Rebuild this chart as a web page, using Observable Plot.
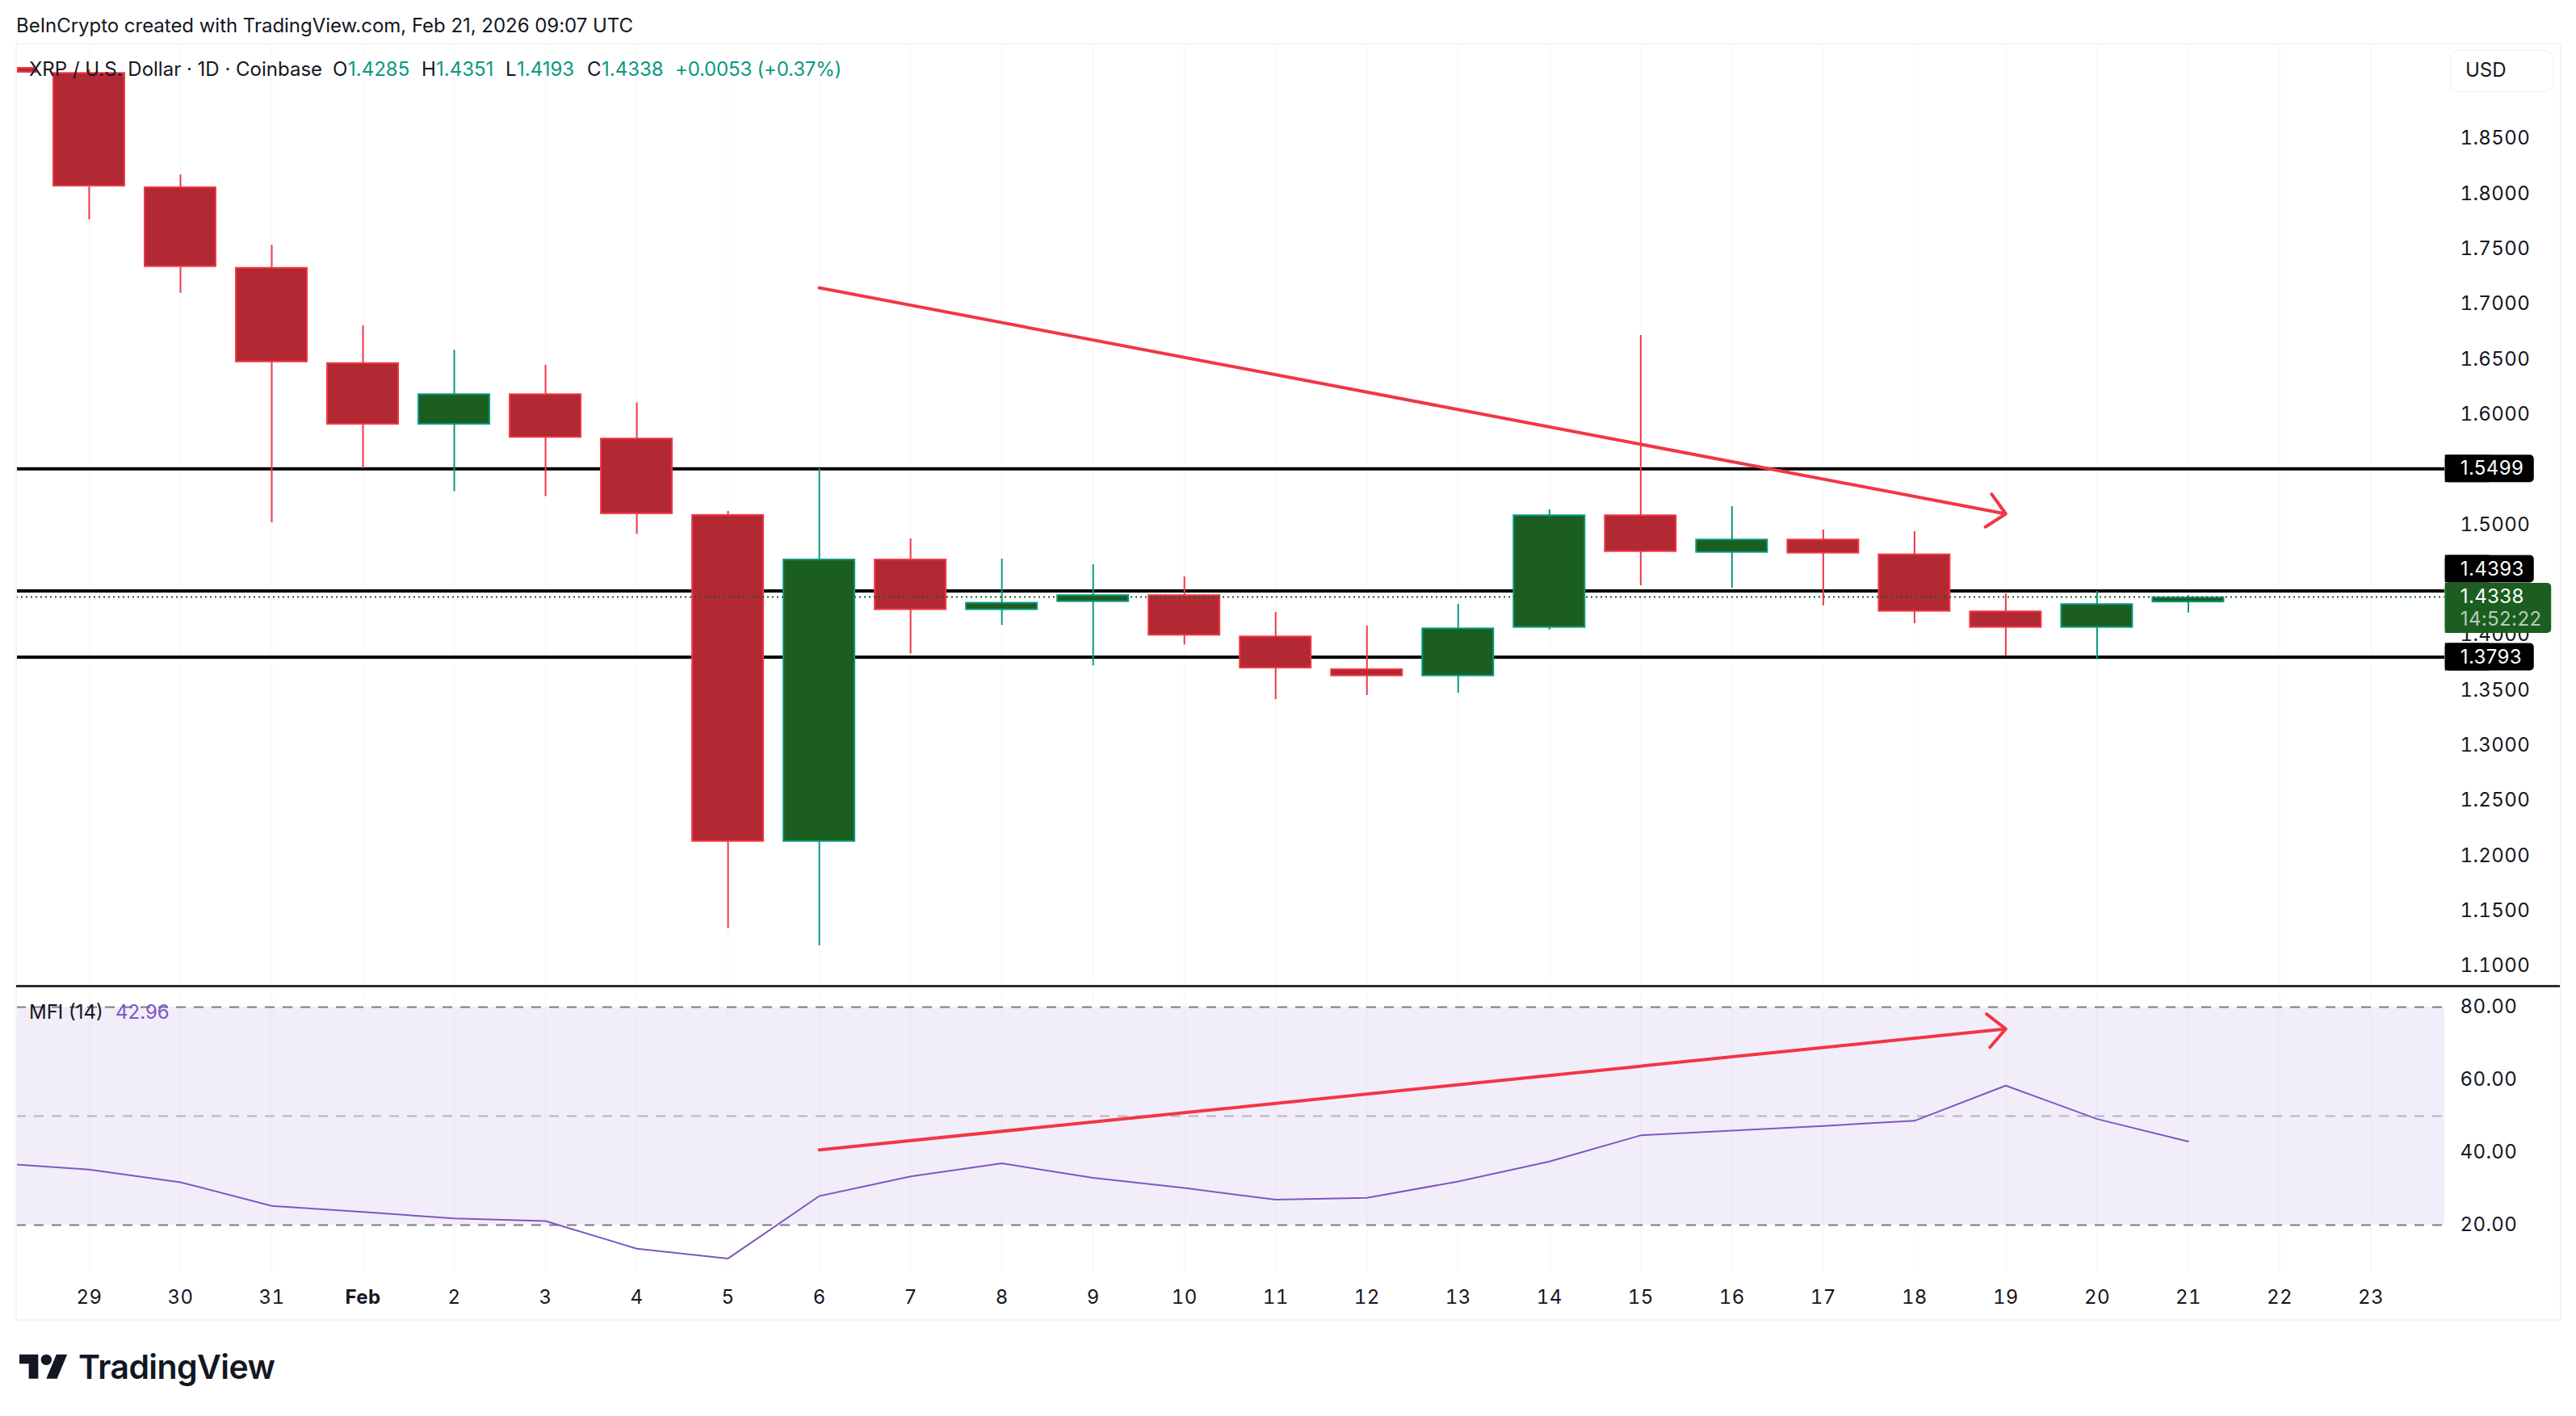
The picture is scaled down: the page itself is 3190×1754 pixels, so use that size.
<!DOCTYPE html>
<html>
<head>
<meta charset="utf-8">
<script src="https://cdn.jsdelivr.net/npm/d3@7"></script>
<script src="https://cdn.jsdelivr.net/npm/@observablehq/plot@0.6"></script>
<style>
  html,body{margin:0;padding:0;background:#fff;}
  #page{position:relative;width:3190px;height:1754px;overflow:hidden;font-family:Inter,sans-serif;color:#131722;}
  #page .abs{position:absolute;white-space:nowrap;line-height:1;}
  #page svg{background:transparent;overflow:visible;}
  .plotbox{position:absolute;left:0;}
  .t{font-size:24px;}
  .up{color:#089981;}
  .mf{color:#7e57c2;}
</style>
</head>
<body>
<div id="page">
  <div id="chartTop" class="plotbox" style="top:0"></div>
  <div id="chartBottom" class="plotbox" style="top:1222px"></div>

  <div class="abs" style="left:19px;top:53px;width:3149px;height:1579px;border:2px solid #f4f4f5;pointer-events:none"></div>
  <div class="abs" style="left:20px;top:1220px;width:3150px;height:3px;background:#2a2e39"></div>

  <div class="abs t" style="left:20px;top:20px;letter-spacing:-0.03px">BeInCrypto created with TradingView.com, Feb 21, 2026 09:07 UTC</div>

  <div class="abs" style="left:21px;top:83px;width:21px;height:3px;background:#b22833;border:2px solid #f23645;box-sizing:content-box"></div>
  <div class="abs t" style="left:36px;top:74px">XRP / U.S. Dollar · 1D · Coinbase</div>
  <div class="abs t" style="left:412px;top:74px">O</div><div class="abs t up" style="left:431px;top:74px">1.4285</div>
  <div class="abs t" style="left:522px;top:74px">H</div><div class="abs t up" style="left:540px;top:74px">1.4351</div>
  <div class="abs t" style="left:626px;top:74px">L</div><div class="abs t up" style="left:640px;top:74px">1.4193</div>
  <div class="abs t" style="left:727px;top:74px">C</div><div class="abs t up" style="left:745px;top:74px">1.4338</div>
  <div class="abs t up" style="left:836px;top:74px;letter-spacing:-0.2px">+0.0053 (+0.37%)</div>

  <div class="abs" style="left:3034px;top:62px;width:126px;height:50px;border:1.5px solid #f0f0f2;border-radius:10px"></div>
  <div class="abs" style="left:3053px;top:75px;font-size:24px">USD</div>

  <div class="abs t" style="left:36px;top:1242px">MFI (14)</div>
  <div class="abs t mf" style="left:143px;top:1242px">42.96</div>

  <svg class="abs" style="left:24px;top:1671px" width="60" height="44" viewBox="0 0 36 26.4"><path fill="#131722" d="M14 22H7V11H0V4h14v18zM28 22h-8l7.5-18h8L28 22z"/><circle fill="#131722" cx="20" cy="8" r="4"/></svg>
  <div class="abs" style="left:97px;top:1673px;font-size:41px;font-weight:600;letter-spacing:-0.6px">TradingView</div>
</div>

<script>
// Day axis: index 0 is Jan 29
const dayLabels = ["29","30","31","Feb","2","3","4","5","6","7","8","9","10","11","12","13","14","15","16","17","18","19","20","21","22","23"];

// Daily candles, Jan 29 to Feb 21
const opens  = [1.9090,1.8054,1.7324,1.6461,1.5896,1.6179,1.5777,1.5085,1.2116,1.4681,1.4216,1.4289,1.4358,1.3984,1.3687,1.3616,1.4055,1.5082,1.4735,1.4862,1.4728,1.4211,1.4055,1.4285];
const highs  = [1.9114,1.8163,1.7525,1.6796,1.6573,1.6439,1.6097,1.5113,1.5500,1.4865,1.4681,1.4630,1.4520,1.4199,1.4074,1.4272,1.5128,1.6708,1.5157,1.4945,1.4930,1.4367,1.4389,1.4351];
const lows   = [1.7756,1.7090,1.5010,1.5501,1.5293,1.5248,1.4906,1.1335,1.1178,1.3822,1.4081,1.3715,1.3904,1.3409,1.3445,1.3467,1.4038,1.4440,1.4418,1.4257,1.4096,1.3801,1.3770,1.4193];
const closes = [1.8054,1.7324,1.6461,1.5896,1.6179,1.5777,1.5085,1.2116,1.4681,1.4216,1.4289,1.4358,1.3984,1.3687,1.3616,1.4057,1.5082,1.4742,1.4862,1.4728,1.4201,1.4055,1.4277,1.4338];

// Horizontal levels and price axis
const levels = [1.5499,1.4393,1.3793];
const lastPrice = 1.4338;
const countdown = "14:52:22";
const priceTicks = [1.10,1.15,1.20,1.25,1.30,1.35,1.40,1.50,1.60,1.65,1.70,1.75,1.80,1.85];

// MFI (14); day -1 is only the line coming in from the left edge
const mfiDays   = [-1,0,1,2,3,4,5,6,7,8,9,10,11,12,13,14,15,16,17,18,19,20,21,22,23];
const mfiValues = [37.0,35.3,31.8,25.3,23.6,21.85,21.1,13.5,10.8,28.0,33.4,37.0,33.0,30.2,27.0,27.5,32.0,37.5,44.7,46.0,47.3,48.7,58.4,49.2,43.0];
const mfiTicks = [20,40,60,80];

// Drawn trend arrows: [day, value, day, value]
const priceArrow = [8, 1.7139, 21, 1.5091];
const mfiArrow   = [8, 40.7, 21, 74.0];

// Scale windows
const xDomain = [-0.796, 25.81];
const priceDomain = [1.0819, 1.9341];
const mfiDomain = [6.67, 85.56];
const bodyHalf = 0.398;
const axisX0 = 25.816, axisTextX = 25.98, boxX1 = 26.79, boxXGreen = 26.98, boxMid = 26.3;

const RED = "#f23645", REDF = "#b22833", GRN = "#089981", GRNF = "#1b5e20", PUR = "#7e57c2";

const candles = opens.map((o, i) => ({i, o, h: highs[i], l: lows[i], c: closes[i], up: closes[i] >= o}));
const gridDays = d3.range(0, 26);
const common = {
  width: 3190, marginLeft: 20, marginRight: 163,
  style: {fontFamily: "Inter, sans-serif", fontSize: "24px", letterSpacing: "0.4px", color: "#131722", background: "transparent", overflow: "visible"}
};

const priceChart = Plot.plot({
  ...common, height: 1222, marginTop: 55, marginBottom: 2,
  x: {domain: xDomain, axis: null},
  y: {domain: priceDomain, axis: null},
  marks: [
    Plot.ruleX(gridDays, {stroke: "#fafafb", strokeWidth: 2}),
    Plot.axisY({anchor: "right", ticks: priceTicks, tickFormat: d3.format(".4f"), tickSize: 0, tickPadding: 19, dy: 1, fontSize: 24, fill: "#131722", label: null}),
    Plot.ruleY(levels, {stroke: "#000", strokeWidth: 4}),
    Plot.ruleX(candles, {x: "i", y1: "l", y2: "h", stroke: d => d.up ? GRN : RED, strokeWidth: 2}),
    Plot.rect(candles, {
      x1: d => d.i - bodyHalf, x2: d => d.i + bodyHalf,
      y1: d => Math.min(d.o, d.c), y2: d => Math.max(d.o, d.c),
      fill: d => d.up ? GRNF : REDF, stroke: d => d.up ? GRN : RED, strokeWidth: 2,
      inset: 1
    }),
    Plot.ruleY([lastPrice], {stroke: GRNF, strokeWidth: 2, strokeDasharray: "2 4"}),
    Plot.arrow([priceArrow], {x1: d => d[0], y1: d => d[1], x2: d => d[2], y2: d => d[3], stroke: RED, strokeWidth: 4, headLength: 11.25, headAngle: 87}),
    // price labels
    ...levels.flatMap(v => {
      const dy = v === 1.4393 ? -27 : 0;
      return [
        Plot.rect([v], {x1: () => axisX0, x2: () => boxX1, y1: d => d, y2: d => d, insetTop: -17, insetBottom: -17, dy, fill: "#000", rx: 5}),
        Plot.rect([v], {x1: () => axisX0, x2: () => boxMid, y1: d => d, y2: d => d, insetTop: -17, insetBottom: -17, dy, fill: "#000"}),
        Plot.text([v], {x: () => axisTextX, y: d => d, text: d => d.toFixed(4), textAnchor: "start", dy, fontSize: 24, fill: "#fff"})
      ];
    }),
    Plot.rect([lastPrice], {x1: () => axisX0, x2: () => boxXGreen, y1: d => d, y2: d => d, insetTop: -31, insetBottom: -31, dy: 14, fill: GRNF, rx: 5}),
    Plot.rect([lastPrice], {x1: () => axisX0, x2: () => boxMid, y1: d => d, y2: d => d, insetTop: -31, insetBottom: -31, dy: 14, fill: GRNF}),
    Plot.text([lastPrice], {x: () => axisTextX, y: d => d, text: d => d.toFixed(4), textAnchor: "start", fontSize: 24, fill: "#fff"}),
    Plot.text([lastPrice], {x: () => axisTextX, y: d => d, text: () => countdown, textAnchor: "start", dy: 28, fontSize: 24, fill: "#fff", fillOpacity: 0.7})
  ]
});
document.getElementById("chartTop").append(priceChart);

const mfiRows = mfiValues.map((v, k) => ({day: mfiDays[k], v}));
const mfiChart = Plot.plot({
  ...common, height: 410, marginTop: 0, marginBottom: 55,
  x: {domain: xDomain, axis: null},
  y: {domain: mfiDomain, axis: null},
  marks: [
    Plot.ruleX(gridDays, {stroke: "#fafafb", strokeWidth: 2}),
    Plot.rect([[20, 80]], {x1: () => xDomain[0], x2: () => xDomain[1], y1: d => d[0], y2: d => d[1], fill: PUR, fillOpacity: 0.1}),
    Plot.ruleY([80, 20], {stroke: "#787b86", strokeWidth: 2, strokeDasharray: "12 10"}),
    Plot.ruleY([50], {stroke: "#787b86", strokeOpacity: 0.5, strokeWidth: 2, strokeDasharray: "12 10"}),
    Plot.line(mfiRows, {x: "day", y: "v", stroke: PUR, strokeWidth: 2, clip: true}),
    Plot.arrow([mfiArrow], {x1: d => d[0], y1: d => d[1], x2: d => d[2], y2: d => d[3], stroke: RED, strokeWidth: 4, headLength: 11.25, headAngle: 87}),
    Plot.axisY({anchor: "right", ticks: mfiTicks, tickFormat: d3.format(".2f"), tickSize: 0, tickPadding: 19, fontSize: 24, fill: "#131722", label: null}),
    Plot.axisX({anchor: "bottom", ticks: dayLabels.map((_, i) => i).filter(i => i !== 3), tickFormat: i => dayLabels[i], tickSize: 0, tickPadding: 20, fontSize: 24, fill: "#131722", label: null}),
    Plot.axisX({anchor: "bottom", ticks: [3], tickFormat: i => dayLabels[i], tickSize: 0, tickPadding: 20, fontSize: 24, fontWeight: 700, fill: "#131722", label: null})
  ]
});
document.getElementById("chartBottom").append(mfiChart);
</script>
</body>
</html>
